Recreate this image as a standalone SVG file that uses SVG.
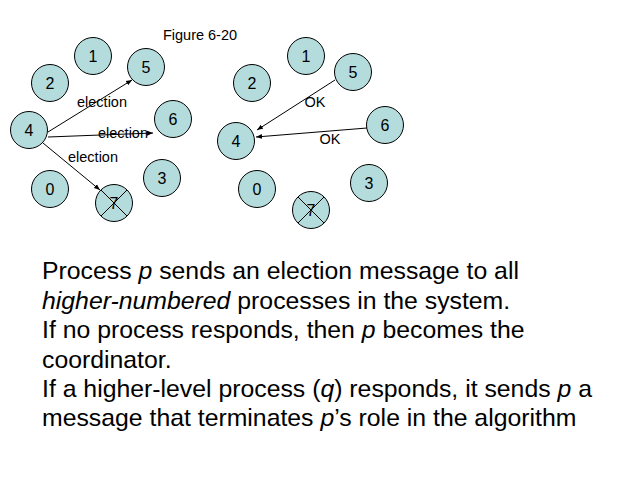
<svg xmlns="http://www.w3.org/2000/svg" width="638" height="478" viewBox="0 0 638 478">
<style>
.n circle{fill:#b4dcdc;stroke:#000;stroke-width:1}
.n text{font-family:"Liberation Sans",Arial,sans-serif;font-size:16px;text-anchor:middle;dominant-baseline:central}
.e line{stroke:#000;stroke-width:1}
.l{font-family:"Liberation Sans",Arial,sans-serif;font-size:14.5px;text-anchor:middle;dominant-baseline:central}
.b{font-family:"Liberation Sans",Arial,sans-serif;font-size:24.8px}
</style>
<defs><marker id="a" viewBox="0 0 10 10" refX="10" refY="5" markerWidth="6" markerHeight="6" orient="auto"><path d="M0,1L10,5L0,9z"/></marker></defs>
<rect width="638" height="478" fill="#fff"/>
<text x="200" y="35" class="l">Figure 6-20</text>
<g id="L1" class="n"><circle cx="93" cy="56" r="18.5"/><text x="93" y="56">1</text></g>
<g id="L2" class="n"><circle cx="50" cy="83" r="18.5"/><text x="50" y="83">2</text></g>
<g id="L5" class="n"><circle cx="146" cy="67" r="18.5"/><text x="146" y="67">5</text></g>
<g id="L4" class="n"><circle cx="29" cy="130" r="18.5"/><text x="29" y="130">4</text></g>
<g id="L6" class="n"><circle cx="173" cy="119" r="18.5"/><text x="173" y="119">6</text></g>
<g id="L3" class="n"><circle cx="162" cy="178" r="18.5"/><text x="162" y="178">3</text></g>
<g id="L0" class="n"><circle cx="50" cy="189" r="18.5"/><text x="50" y="189">0</text></g>
<g id="L7" class="n"><circle cx="114" cy="203" r="18.5"/><text x="114" y="203">7</text><line x1="101" y1="190" x2="127" y2="216" stroke="#000"/><line x1="127" y1="190" x2="101" y2="216" stroke="#000"/></g>
<g id="R1" class="n"><circle cx="306" cy="56" r="18.5"/><text x="306" y="56">1</text></g>
<g id="R2" class="n"><circle cx="252" cy="83" r="18.5"/><text x="252" y="83">2</text></g>
<g id="R5" class="n"><circle cx="353" cy="72" r="18.5"/><text x="353" y="72">5</text></g>
<g id="R6" class="n"><circle cx="385" cy="125" r="18.5"/><text x="385" y="125">6</text></g>
<g id="R4" class="n"><circle cx="236" cy="141" r="18.5"/><text x="236" y="141">4</text></g>
<g id="R0" class="n"><circle cx="257" cy="189" r="18.5"/><text x="257" y="189">0</text></g>
<g id="R3" class="n"><circle cx="369" cy="183" r="18.5"/><text x="369" y="183">3</text></g>
<g id="R7" class="n"><circle cx="311" cy="210" r="18.5"/><text x="311" y="210">7</text><line x1="298" y1="197" x2="324" y2="223" stroke="#000"/><line x1="324" y1="197" x2="298" y2="223" stroke="#000"/></g>
<g id="edges" class="e">
<line x1="48" y1="132" x2="132" y2="80" marker-end="url(#a)"/>
<line x1="48" y1="137" x2="153" y2="133" marker-end="url(#a)"/>
<line x1="43" y1="143" x2="100" y2="190" marker-end="url(#a)"/>
<line x1="335" y1="80" x2="257" y2="130" marker-end="url(#a)"/>
<line x1="367" y1="128" x2="256" y2="137" marker-end="url(#a)"/>
</g>
<text x="102" y="102" class="l">election</text>
<text x="123" y="133" class="l">election</text>
<text x="93" y="157" class="l">election</text>
<text x="315" y="102" class="l">OK</text>
<text x="330" y="139" class="l">OK</text>
<g class="b">
<text x="42" y="279">Process <tspan font-style="italic">p</tspan> sends an election message to all</text>
<text x="42" y="308.5"><tspan font-style="italic">higher-numbered</tspan> processes in the system.</text>
<text x="42" y="338">If no process responds, then <tspan font-style="italic">p</tspan> becomes the</text>
<text x="42" y="367.5">coordinator.</text>
<text x="42" y="397">If a higher-level process (<tspan font-style="italic">q</tspan>) responds, it sends <tspan font-style="italic">p</tspan> a</text>
<text x="42" y="426">message that terminates <tspan font-style="italic">p</tspan>’s role in the algorithm</text>
</g>
</svg>
